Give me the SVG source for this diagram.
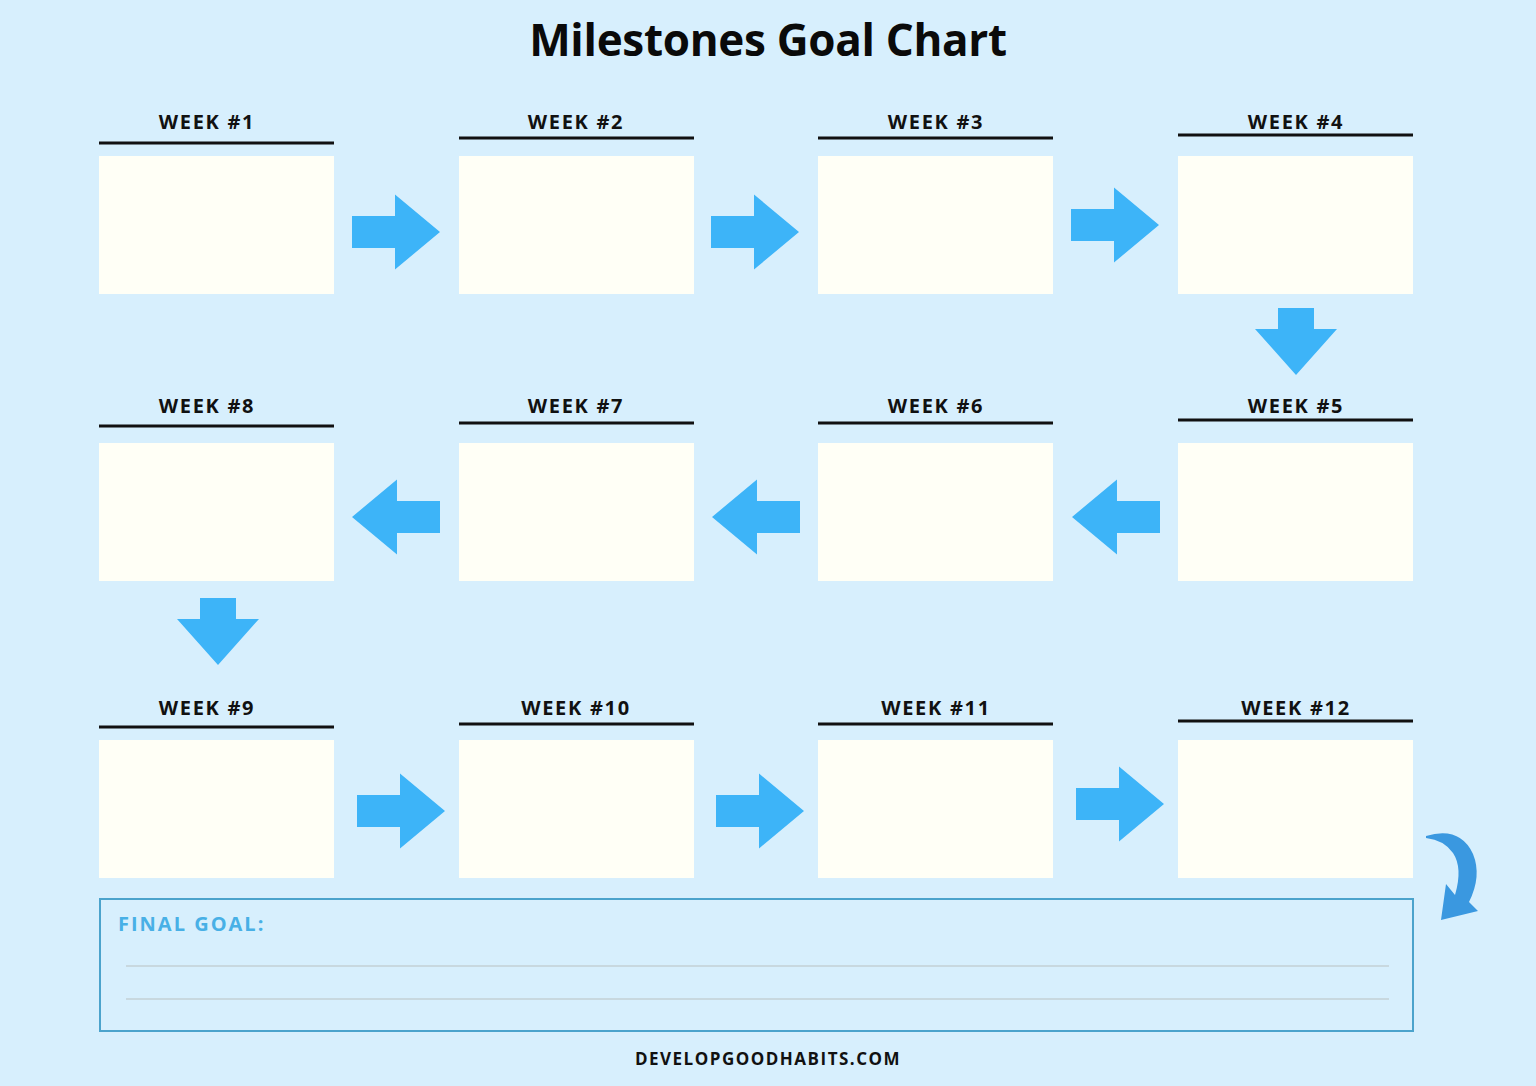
<svg xmlns="http://www.w3.org/2000/svg" xmlns:xlink="http://www.w3.org/1999/xlink" width="1536" height="1086" viewBox="0 0 1536 1086">
<style>
.lbl{font-family:"Open Sans","DejaVu Sans",sans-serif;font-weight:bold;font-size:20px;letter-spacing:1.7px;fill:#111;text-anchor:middle}
.box{fill:#fffff6}
.rule{stroke:#111;stroke-width:3}
.arr{fill:#3db4f8}
</style>
<defs>
<path id="ra" d="M0,-16 H43 V-37.5 L88,0 L43,37.5 V16 H0 Z"/>
<path id="da" d="M-18,0 H18 V21 H41 L0,67 L-41,21 H-18 Z"/>
</defs>
<rect width="1536" height="1086" fill="#d7effd"/>
<text x="768" y="56" font-family="Open Sans, DejaVu Sans, sans-serif" font-weight="bold" font-size="44" letter-spacing="-0.3" fill="#0a0a0a" text-anchor="middle">Milestones Goal Chart</text>

<g id="week1"><text class="lbl" x="207" y="129">WEEK #1</text><line class="rule" x1="99" y1="143" x2="334" y2="143"/><rect class="box" x="99" y="156" width="235" height="138"/></g>
<g id="week2"><text class="lbl" x="576" y="129">WEEK #2</text><line class="rule" x1="459" y1="138" x2="694" y2="138"/><rect class="box" x="459" y="156" width="235" height="138"/></g>
<g id="week3"><text class="lbl" x="936" y="129">WEEK #3</text><line class="rule" x1="818" y1="138" x2="1053" y2="138"/><rect class="box" x="818" y="156" width="235" height="138"/></g>
<g id="week4"><text class="lbl" x="1296" y="129">WEEK #4</text><line class="rule" x1="1178" y1="135" x2="1413" y2="135"/><rect class="box" x="1178" y="156" width="235" height="138"/></g>

<g id="week8"><text class="lbl" x="207" y="413">WEEK #8</text><line class="rule" x1="99" y1="426" x2="334" y2="426"/><rect class="box" x="99" y="443" width="235" height="138"/></g>
<g id="week7"><text class="lbl" x="576" y="413">WEEK #7</text><line class="rule" x1="459" y1="423" x2="694" y2="423"/><rect class="box" x="459" y="443" width="235" height="138"/></g>
<g id="week6"><text class="lbl" x="936" y="413">WEEK #6</text><line class="rule" x1="818" y1="423" x2="1053" y2="423"/><rect class="box" x="818" y="443" width="235" height="138"/></g>
<g id="week5"><text class="lbl" x="1296" y="413">WEEK #5</text><line class="rule" x1="1178" y1="420" x2="1413" y2="420"/><rect class="box" x="1178" y="443" width="235" height="138"/></g>

<g id="week9"><text class="lbl" x="207" y="715">WEEK #9</text><line class="rule" x1="99" y1="727" x2="334" y2="727"/><rect class="box" x="99" y="740" width="235" height="138"/></g>
<g id="week10"><text class="lbl" x="576" y="715">WEEK #10</text><line class="rule" x1="459" y1="724" x2="694" y2="724"/><rect class="box" x="459" y="740" width="235" height="138"/></g>
<g id="week11"><text class="lbl" x="936" y="715">WEEK #11</text><line class="rule" x1="818" y1="724" x2="1053" y2="724"/><rect class="box" x="818" y="740" width="235" height="138"/></g>
<g id="week12"><text class="lbl" x="1296" y="715">WEEK #12</text><line class="rule" x1="1178" y1="721" x2="1413" y2="721"/><rect class="box" x="1178" y="740" width="235" height="138"/></g>

<g id="connectors">
<use xlink:href="#ra" class="arr" transform="translate(352,232)"/>
<use xlink:href="#ra" class="arr" transform="translate(711,232)"/>
<use xlink:href="#ra" class="arr" transform="translate(1071,225)"/>
<use xlink:href="#da" class="arr" transform="translate(1296,308)"/>
<use xlink:href="#ra" class="arr" transform="translate(1160,517) scale(-1,1)"/>
<use xlink:href="#ra" class="arr" transform="translate(800,517) scale(-1,1)"/>
<use xlink:href="#ra" class="arr" transform="translate(440,517) scale(-1,1)"/>
<use xlink:href="#da" class="arr" transform="translate(218,598)"/>
<use xlink:href="#ra" class="arr" transform="translate(357,811)"/>
<use xlink:href="#ra" class="arr" transform="translate(716,811)"/>
<use xlink:href="#ra" class="arr" transform="translate(1076,804)"/>
<path d="M1426,836 Q1460,826 1473,854 Q1482,876 1469,902 L1478,911 L1441,920 L1446,884 L1455,895 Q1463,868 1453,853 Q1444,840 1426,838 Z" fill="#3a98e0"/>
</g>

<g id="final-goal">
<rect x="100" y="899" width="1313" height="132" fill="none" stroke="#4ba3cc" stroke-width="2"/>
<text x="118" y="931" font-family="Open Sans, DejaVu Sans, sans-serif" font-weight="bold" font-size="20" letter-spacing="2" fill="#48b0e6">FINAL GOAL:</text>
<line x1="126" y1="966" x2="1389" y2="966" stroke="#c8d8df" stroke-width="2"/>
<line x1="126" y1="999" x2="1389" y2="999" stroke="#c8d8df" stroke-width="2"/>
</g>

<text x="768" y="1065" font-family="Open Sans, DejaVu Sans, sans-serif" font-weight="bold" font-size="17" letter-spacing="1.5" fill="#111" text-anchor="middle">DEVELOPGOODHABITS.COM</text>
</svg>
